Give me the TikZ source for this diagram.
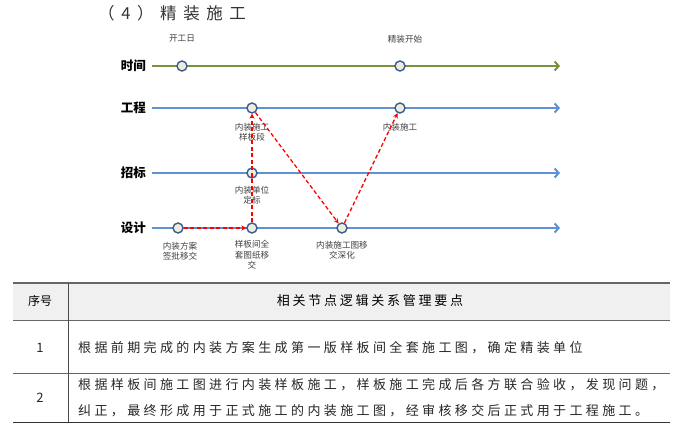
\documentclass[tikz,border=0pt]{standalone}
\usepackage{fontspec}
\setmainfont{Noto Sans CJK SC}
\newfontfamily\titlefont{Noto Sans CJK SC}[LetterSpace=40]
\newfontfamily\cellfont{Noto Sans CJK SC}[LetterSpace=26]
\newfontfamily\headfont{Noto Sans CJK SC}[LetterSpace=21]
\usetikzlibrary{arrows.meta}
\definecolor{timecolor}{HTML}{77933C}
\definecolor{trackcolor}{HTML}{5F92D2}
\definecolor{evfill}{HTML}{EEECE1}
\definecolor{evline}{HTML}{3A5D8C}
\definecolor{labcolor}{HTML}{404040}
\definecolor{headfill}{HTML}{F0F0F0}
\tikzset{
  time axis/.style={timecolor,line width=2.2pt,-{Straight Barb[length=4pt,width=9pt,line width=2pt]}},
  track axis/.style={trackcolor,line width=2.2pt,-{Straight Barb[length=4pt,width=9pt,line width=2pt]}},
  ev/.style={circle,minimum size=10pt,inner sep=0pt,fill=evfill,draw=evline,line width=1.4pt},
  ev lab/.style={text=labcolor,font=\fontsize{8.6}{10.5}\selectfont,align=center,inner sep=0pt},
  row lab/.style={font=\fontsize{12.5}{14}\selectfont\bfseries,anchor=east,inner sep=0pt},
  dep/.style={red,line width=1.3pt,dashed,dash pattern=on 4pt off 2.5pt,-{Stealth[length=5pt,width=5pt]}},
  tab rule/.style={gray!80!black,line width=0.9pt},
  cell/.style={font=\fontsize{13}{15}\selectfont\cellfont,text=black!85,inner sep=0pt}
}
\begin{document}
\begin{tikzpicture}[x=1pt,y=-1pt]
  \useasboundingbox (0,0) rectangle (688,438);
  \node[anchor=west,font=\fontsize{16.5}{18}\selectfont\titlefont,text=black!80,inner sep=0pt] (title) at (98,13) {（4）精装施工};
  % row labels and tracks
  \node[row lab] (ltime) at (146,66) {时间};
  \node[row lab] (lwork) at (146,108) {工程};
  \node[row lab] (lbid) at (146,173) {招标};
  \node[row lab] (ldes) at (146,228) {设计};
  \coordinate (ta) at (152,66);  \coordinate (tb) at (560,66);
  \coordinate (ga) at (152,108); \coordinate (gb) at (560,108);
  \coordinate (za) at (152,173); \coordinate (zb) at (560,173);
  \coordinate (sa) at (152,228); \coordinate (sb) at (560,228);
  \draw[time axis] (ta) -- (tb);
  \draw[track axis] (ga) -- (gb);
  \draw[track axis] (za) -- (zb);
  \draw[track axis] (sa) -- (sb);
  % events
  \node[ev] (t1) at (182,66) {};
  \node[ev] (t2) at (400,66) {};
  \node[ev] (g1) at (252,108) {};
  \node[ev] (g2) at (400,108) {};
  \node[ev] (z1) at (252,173) {};
  \node[ev] (s1) at (178,228) {};
  \node[ev] (s2) at (252,228) {};
  \node[ev] (s3) at (342,228) {};
  \node[ev lab] (t1l) at (182,39) {开工日};
  \node[ev lab] (t2l) at (405,39) {精装开始};
  \node[ev lab] (g1l) at (252,132) {内装施工\\样板段};
  \node[ev lab] (g2l) at (400,127) {内装施工};
  \node[ev lab] (z1l) at (252,195) {内装单位\\定标};
  \node[ev lab] (s1l) at (180,251) {内装方案\\签批移交};
  \node[ev lab] (s2l) at (252,255) {样板间全\\套图纸移\\交};
  \node[ev lab] (s3l) at (342,250) {内装施工图移\\交深化};
  % dependencies
  \draw[dep] (s1) -- (s2);
  \draw[dep] (s2) -- (g1);
  \draw[dep] (g1) -- (s3);
  \draw[dep] (s3) -- (g2);
  % table
  \fill[headfill] (13,283) rectangle (670,320);
  \draw[tab rule,line width=1.6pt] (13,283) -- (670,283);
  \draw[tab rule] (13,320) -- (670,320);
  \draw[tab rule] (13,373) -- (670,373);
  \draw[black!80,line width=1pt] (13,422) -- (670,422);
  \draw[black!70,line width=0.9pt] (68,283) -- (68,422);
  \node[font=\fontsize{12}{14}\selectfont,inner sep=0pt] (hno) at (40,301) {序号};
  \node[font=\fontsize{13}{15}\selectfont\headfont,inner sep=0pt] (hkey) at (370,301) {相关节点逻辑关系管理要点};
  \node[cell] (n1) at (40,348) {1};
  \node[cell] (n2) at (40,398) {2};
  \node[cell,anchor=west] (r1) at (78,348) {根据前期完成的内装方案生成第一版样板间全套施工图，确定精装单位};
  \node[cell,anchor=west] (r2a) at (78,385) {根据样板间施工图进行内装样板施工，样板施工完成后各方联合验收，发现问题，};
  \node[cell,anchor=west] (r2b) at (78,411) {纠正，最终形成用于正式施工的内装施工图，经审核移交后正式用于工程施工。};
\end{tikzpicture}
\end{document}
